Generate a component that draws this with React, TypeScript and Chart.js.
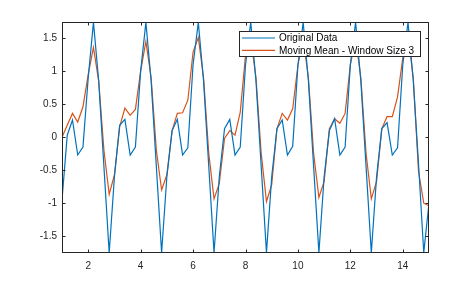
import React, { useEffect, useRef } from "react";
import { Chart, registerables } from "chart.js";

Chart.register(...registerables);

// Sample positions (t) and the two series drawn against them.
const tValues = [
  1.0, 1.2, 1.4, 1.6, 1.8, 2.0, 2.2, 2.4, 2.6, 2.8,
  3.0, 3.2, 3.4, 3.6, 3.8, 4.0, 4.2, 4.4, 4.6, 4.8,
  5.0, 5.2, 5.4, 5.6, 5.8, 6.0, 6.2, 6.4, 6.6, 6.8,
  7.0, 7.2, 7.4, 7.6, 7.8, 8.0, 8.2, 8.4, 8.6, 8.8,
  9.0, 9.2, 9.4, 9.6, 9.8, 10.0, 10.2, 10.4, 10.6, 10.8,
  11.0, 11.2, 11.4, 11.6, 11.8, 12.0, 12.2, 12.4, 12.6, 12.8,
  13.0, 13.2, 13.4, 13.6, 13.8, 14.0, 14.2, 14.4, 14.6, 14.8,
  15.0,
];

const originalData = [
  -0.95, 0.03, 0.26, -0.27, -0.15, 0.9, 1.74, 0.85, -0.45, -1.75,
  -0.6, 0.18, 0.27, -0.27, -0.15, 1.0, 1.74, 0.85, -0.45, -1.75,
  -0.6, 0.1, 0.27, -0.27, -0.16, 1.1, 1.74, 0.85, -0.45, -1.75,
  -0.6, 0.13, 0.27, -0.27, -0.15, 1.09, 1.74, 0.85, -0.45, -1.75,
  -0.6, 0.13, 0.26, -0.27, -0.14, 1.09, 1.74, 0.85, -0.45, -1.75,
  -0.6, 0.1, 0.28, -0.27, -0.15, 1.1, 1.74, 0.85, -0.45, -1.75,
  -0.6, 0.13, 0.22, -0.27, -0.16, 1.1, 1.74, 0.85, -0.4, -1.75,
  -1.0,
];

const movingMean = [
  0.0, 0.18, 0.36, 0.23, 0.46, 0.95, 1.36, 0.85, -0.2, -0.865,
  -0.57, 0.16, 0.44, 0.33, 0.42, 1.0, 1.45, 0.9, -0.2, -0.8,
  -0.57, 0.1, 0.36, 0.37, 0.56, 1.29, 1.51, 0.9, -0.25, -0.935,
  -0.7, -0.02, 0.1, 0.03, 0.38, 1.24, 1.5, 0.9, -0.25, -0.975,
  -0.72, 0.13, 0.36, 0.26, 0.43, 1.09, 1.5, 0.9, -0.25, -0.915,
  -0.67, 0.13, 0.28, 0.21, 0.36, 1.1, 1.5, 0.9, -0.25, -0.935,
  -0.67, 0.13, 0.31, 0.31, 0.61, 1.2, 1.55, 0.9, -0.52, -1.0,
  -1.04,
];

const xTicks = [2, 4, 6, 8, 10, 12, 14];
const yTicks = [-1.5, -1, -0.5, 0, 0.5, 1, 1.5];
const seriesLabels = ["Original Data", "Moving Mean - Window Size 3"];
const seriesColors = ["#0072BD", "#D95319"];

const AXIS_COLOR = "#262626";
const FONT_FAMILY = "'Liberation Sans', Arial, Helvetica, sans-serif";

// Axes box with inward tick marks on all four sides, plus the legend box.
const framePlugin = {
  id: "matlabFrame",
  afterDatasetsDraw(chart: any) {
    const { ctx, chartArea } = chart;
    const { left, right, top, bottom } = chartArea;
    const xs = chart.scales.x;
    const ys = chart.scales.y;
    const tick = 3.5;
    ctx.save();
    ctx.strokeStyle = AXIS_COLOR;
    ctx.lineWidth = 1;
    ctx.beginPath();
    for (const v of xTicks) {
      const px = Math.round(xs.getPixelForValue(v)) + 0.5;
      ctx.moveTo(px, bottom);
      ctx.lineTo(px, bottom - tick);
      ctx.moveTo(px, top);
      ctx.lineTo(px, top + tick);
    }
    for (const v of yTicks) {
      const py = Math.round(ys.getPixelForValue(v)) + 0.5;
      ctx.moveTo(left, py);
      ctx.lineTo(left + tick, py);
      ctx.moveTo(right, py);
      ctx.lineTo(right - tick, py);
    }
    ctx.stroke();
    ctx.strokeRect(left + 0.5, top + 0.5, right - left - 1, bottom - top - 1);

    // Legend
    const lx = 239.5;
    const ly = 31.5;
    const lw = 181;
    const lh = 25;
    ctx.fillStyle = "#ffffff";
    ctx.fillRect(lx, ly, lw, lh);
    ctx.strokeStyle = AXIS_COLOR;
    ctx.lineWidth = 1;
    ctx.strokeRect(lx, ly, lw, lh);
    ctx.font = `10px ${FONT_FAMILY}`;
    ctx.textBaseline = "middle";
    ctx.textAlign = "left";
    chart.data.datasets.forEach((ds: any, i: number) => {
      const rowY = 38 + i * 12.3;
      ctx.strokeStyle = ds.borderColor;
      ctx.lineWidth = 1.2;
      ctx.beginPath();
      ctx.moveTo(242, rowY);
      ctx.lineTo(275, rowY);
      ctx.stroke();
      ctx.fillStyle = "#000000";
      ctx.fillText(ds.label, 279, rowY + 0.5);
    });
    ctx.restore();
  },
};

export default function App() {
  const canvasRef = useRef<HTMLCanvasElement | null>(null);

  useEffect(() => {
    if (!canvasRef.current) return;
    const datasets = [originalData, movingMean].map((series, i) => ({
      label: seriesLabels[i],
      data: series.map((y, k) => ({ x: tValues[k], y })),
      borderColor: seriesColors[i],
      backgroundColor: seriesColors[i],
      borderWidth: 1.2,
      pointRadius: 0,
      tension: 0,
      fill: false,
      clip: 0,
    }));

    const chart = new Chart(canvasRef.current, {
      type: "line",
      data: { datasets },
      plugins: [framePlugin],
      options: {
        animation: false,
        responsive: false,
        devicePixelRatio: 1,
        layout: { padding: { left: 0, top: 22, right: 45, bottom: 0 } },
        plugins: {
          legend: { display: false },
          tooltip: { enabled: false },
        },
        scales: {
          x: {
            type: "linear",
            min: 1,
            max: 15,
            grid: { display: false, drawTicks: false },
            border: { display: false },
            afterBuildTicks: (scale: any) => {
              scale.ticks = xTicks.map((v) => ({ value: v }));
            },
            afterFit: (scale: any) => {
              scale.height = 32;
            },
            ticks: {
              autoSkip: false,
              maxRotation: 0,
              padding: 7,
              color: AXIS_COLOR,
              font: { family: FONT_FAMILY, size: 10 },
              callback: (v: any) => String(v),
            },
          },
          y: {
            type: "linear",
            min: -1.755,
            max: 1.745,
            grid: { display: false, drawTicks: false },
            border: { display: false },
            afterBuildTicks: (scale: any) => {
              scale.ticks = yTicks.map((v) => ({ value: v }));
            },
            afterFit: (scale: any) => {
              scale.width = 62;
            },
            ticks: {
              autoSkip: false,
              padding: 5,
              color: AXIS_COLOR,
              font: { family: FONT_FAMILY, size: 10 },
              callback: (v: any) => String(v),
            },
          },
        },
      },
    });
    return () => chart.destroy();
  }, []);

  return (
    <div style={{ position: "absolute", left: 0, top: 0, width: 474, height: 285, background: "#ffffff" }}>
      <canvas ref={canvasRef} width={474} height={285} style={{ display: "block" }} />
    </div>
  );
}
